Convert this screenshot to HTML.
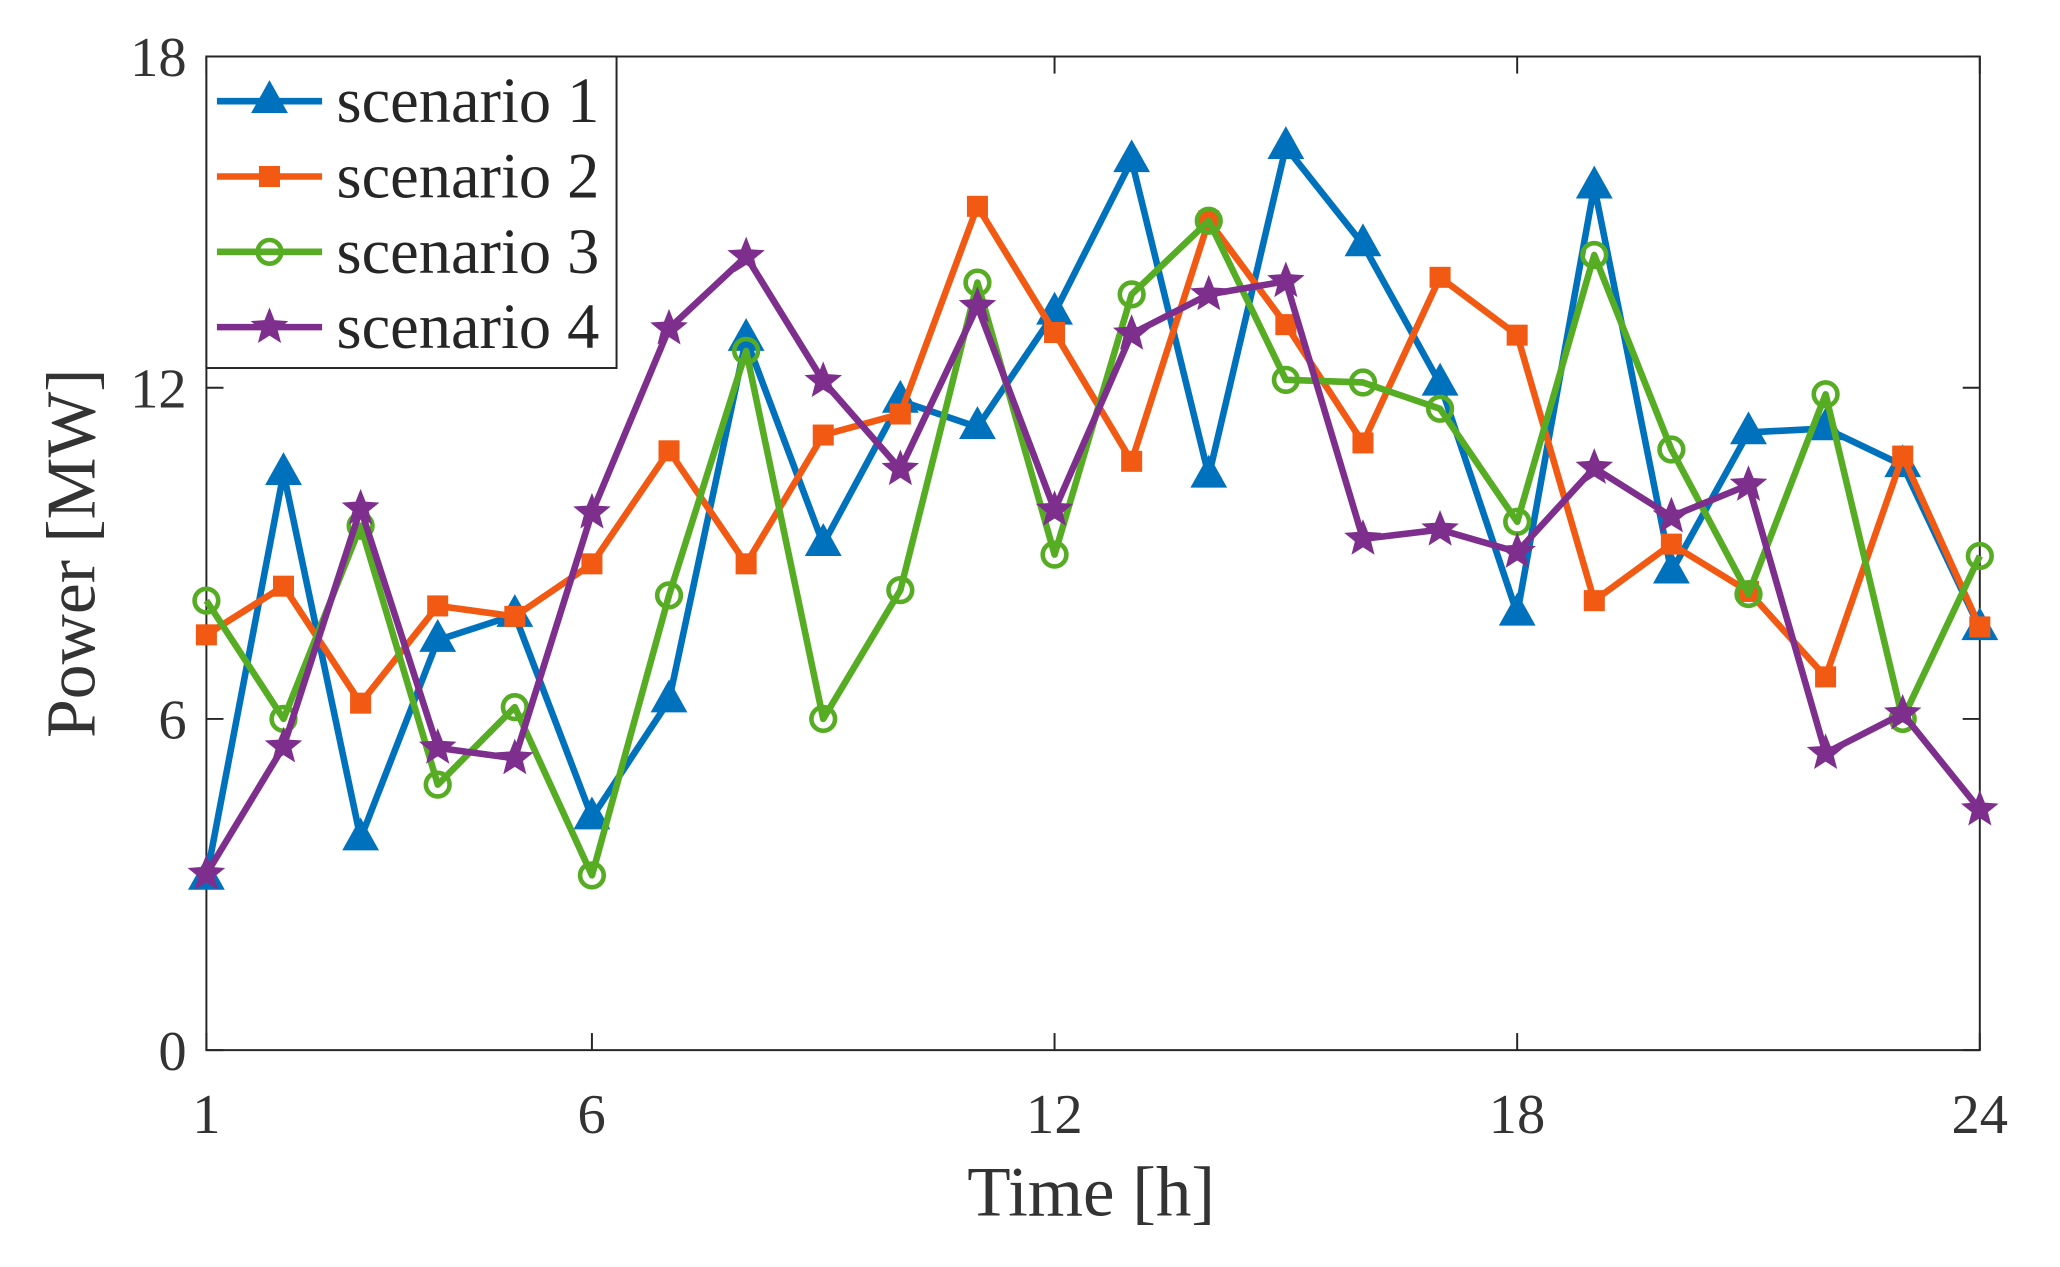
<!DOCTYPE html>
<html><head><meta charset="utf-8"><style>html,body{margin:0;padding:0;background:#fff}svg{display:block}</style></head>
<body>
<svg id="s" width="2060" height="1267" viewBox="0 0 1567 964" preserveAspectRatio="none" xmlns="http://www.w3.org/2000/svg" font-family="Liberation Serif, serif" fill="#262626">
<rect x="157" y="43" width="1349" height="756" fill="#fff" stroke="#262626" stroke-width="1.5"/>
<g id="ticks" stroke="#262626" stroke-width="1.5"></g>
<g font-size="43" fill="#333">
<text x="157" y="862" text-anchor="middle">1</text>
<text x="450" y="862" text-anchor="middle">6</text>
<text x="802" y="862" text-anchor="middle">12</text>
<text x="1154" y="862" text-anchor="middle">18</text>
<text x="1506" y="862" text-anchor="middle">24</text>
<text x="142" y="814" text-anchor="end">0</text>
<text x="142" y="562" text-anchor="end">6</text>
<text x="142" y="310" text-anchor="end">12</text>
<text x="142" y="58" text-anchor="end">18</text>
</g>
<text x="830" y="925" font-size="54" text-anchor="middle" fill="#333">Time [h]</text>
<text transform="translate(72,421) rotate(-90)" font-size="53" text-anchor="middle" fill="#333">Power [MW]</text>
<g id="series"></g>
<rect x="157" y="43" width="312" height="237" fill="#fff" stroke="#262626" stroke-width="1.5"/>
<g id="legend"></g>
</svg>
<script>
const X=i=>157+(i-1)*(1349/23);
const data=[
["#0072BD","tri",[668,360,638,487,468,622,533,258,414,305,325,238,122,362,112,186,292,467,142,435,329,326,354,478]],
["#F25A14","sq",[483,446,535,461,469,429,343,429,331,315,157,253,351,168,247,337,211,255,457,414,450,515,347,477]],
["#56AC23","circ",[457,547,400,597,538,666,453,267,547,449,215,422,224,168,289,291,311,397,194,342,452,300,547,423]],
["#7E2F8E","star",[665,568,387,569,577,390,250,195,290,357,233,388,254,224,214,410,403,420,356,393,369,573,543,616]]];
function marker(t,x,y,c){
 if(t=="tri")return `<polygon points="${x},${y-16} ${x-14},${y+9} ${x+14},${y+9}" fill="${c}"/>`;
 if(t=="sq")return `<rect x="${x-8}" y="${y-8}" width="16" height="16" fill="${c}"/>`;
 if(t=="circ")return `<circle cx="${x}" cy="${y}" r="9" fill="none" stroke="${c}" stroke-width="3.5"/>`;
 let p=[];for(let k=0;k<10;k++){let r=k%2?6.5:15,a=-Math.PI/2+k*Math.PI/5;p.push((x+r*Math.cos(a)).toFixed(1)+","+(y+r*Math.sin(a)).toFixed(1));}
 return `<polygon points="${p.join(" ")}" fill="${c}"/>`;
}
let s="";
data.forEach(([c,t,ys])=>{
 s+=`<polyline fill="none" stroke="${c}" stroke-width="5" stroke-linejoin="round" points="${ys.map((y,i)=>X(i+1).toFixed(1)+","+y).join(" ")}"/>`;
 ys.forEach((y,i)=>s+=marker(t,X(i+1),y,c));
});
document.getElementById("series").innerHTML=s;
let l="";
["scenario 1","scenario 2","scenario 3","scenario 4"].forEach((n,i)=>{
 let y=77+i*57.3,[c,t]=data[i];
 l+=`<line x1="165" x2="245" y1="${y}" y2="${y}" stroke="${c}" stroke-width="5"/>`+marker(t,205,y,c)+`<text x="256" y="${y+16}" font-size="49" fill="#262626">${n}</text>`;
});
document.getElementById("legend").innerHTML=l;
let tk="";
[1,6,12,18,24].forEach(h=>{let x=X(h);tk+=`<line x1="${x}" x2="${x}" y1="799" y2="786"/><line x1="${x}" x2="${x}" y1="43" y2="56"/>`;});
[0,6,12,18].forEach(v=>{let y=799-v*42;tk+=`<line x1="157" x2="170" y1="${y}" y2="${y}"/><line x1="1506" x2="1493" y1="${y}" y2="${y}"/>`;});
document.getElementById("ticks").innerHTML=tk;
</script>
</body></html>
